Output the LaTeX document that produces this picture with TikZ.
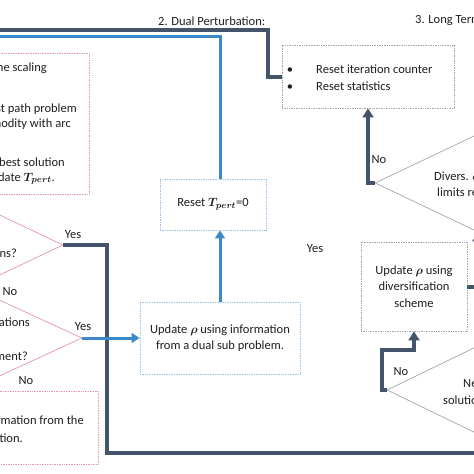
\documentclass[tikz,border=0pt]{standalone}
\usepackage{amsmath}
\usepackage{fontspec}
\setmainfont{Carlito}
\usetikzlibrary{arrows.meta,shapes.geometric}
\definecolor{navy}{HTML}{44546A}
\definecolor{lblue}{HTML}{3A87C9}
\definecolor{bluebd}{HTML}{9DC3E6}
\definecolor{pinkbd}{HTML}{E59AA3}
\definecolor{graybd}{HTML}{A6A6A6}
\definecolor{txt}{HTML}{1F1F1F}
\tikzset{
  navyln/.style={draw=navy, line width=4pt},
  blueln/.style={draw=lblue, line width=3pt},
  navyarr/.style={navyln, -{Triangle[length=9pt,width=11pt]}},
  bluearr/.style={blueln, -{Triangle[length=8pt,width=10pt]}},
  boxbase/.style={line width=0.9pt, dash pattern=on 1pt off 0.7pt, fill=white, align=center, inner sep=0pt, text=txt},
  bluebox/.style={boxbase, draw=bluebd},
  graybox/.style={boxbase, draw=graybd},
  pinkbox/.style={boxbase, draw=pinkbd},
  pinkdiam/.style={diamond, draw=pinkbd, line width=0.7pt, inner sep=0pt},
  graydiam/.style={diamond, draw=graybd, line width=0.7pt, inner sep=0pt},
  lbl/.style={text=txt, inner sep=0pt},
}
\begin{document}
\begin{tikzpicture}[x=1pt,y=-1pt, font=\fontsize{12.5}{16.5}\selectfont]
\useasboundingbox (0,0) rectangle (474,474);
\clip (0,0) rectangle (474,474);
\fill[white] (0,0) rectangle (474,474);

% headings
\node[lbl, anchor=west] (h2) at (158,21) {2. Dual Perturbation:};
\node[lbl, anchor=west] (h3) at (415,21) {3. Long Term Memory:};

% boxes
\node[pinkbox, minimum width=220, minimum height=141, anchor=north east] (pinkT) at (90,53) {};
\node[lbl, anchor=base east] (pt1) at (47,71) {the scaling};
\node[lbl, anchor=base east] (pt2) at (77,112) {shortest path problem};
\node[lbl, anchor=base east] (pt3) at (71,127) {commodity with arc};
\node[lbl, anchor=base east] (pt4) at (65,166) {the best solution};
\node[lbl, anchor=base east] (pt5) at (55,181) {update $\boldsymbol{T_{pert}}$.};

\node[pinkbox, minimum width=220, minimum height=73, anchor=north east] (pinkB) at (99,391) {};
\node[lbl, anchor=base east] (pb1) at (84,424) {information from the};
\node[lbl, anchor=base east] (pb2) at (23,442) {solution.};

\node[graybox, minimum width=172, minimum height=63] (resetIt) at (368,76.5) {};
\node[lbl, anchor=base] (b1) at (290,73) {\textbullet};
\node[lbl, anchor=base west] (r1) at (316,73) {Reset iteration counter};
\node[lbl, anchor=base] (b2) at (290,90) {\textbullet};
\node[lbl, anchor=base west] (r2) at (316,90) {Reset statistics};

\node[bluebox, minimum width=106, minimum height=51] (resetT) at (213,204.5) {Reset $\boldsymbol{T_{pert}}$=0};
\node[bluebox, minimum width=160, minimum height=72] (updInfo) at (220,338) {Update $\boldsymbol{\rho}$ using information\\from a dual sub problem.};
\node[graybox, minimum width=106, minimum height=89] (updDiv) at (414,286.5) {Update $\boldsymbol{\rho}$ using\\diversification\\scheme};

% diamonds
\node[pinkdiam, minimum width=166, minimum height=79] (d1) at (-20,245) {};
\node[lbl, anchor=base east] (d1t) at (17,257) {iterations?};
\node[pinkdiam, minimum width=204, minimum height=94] (d2) at (-20,338) {};
\node[lbl, anchor=base east] (d2a) at (30,326) {iterations};
\node[lbl, anchor=base east] (d2b) at (28,360) {improvement?};
\node[graydiam, minimum width=206, minimum height=98] (d3) at (478,183) {};
\node[lbl, anchor=base west] (d3a) at (434,180) {Divers. \& int.};
\node[lbl, anchor=base west] (d3b) at (437,196) {limits reached?};
\node[graydiam, minimum width=206, minimum height=100] (d4) at (490,390) {};
\node[lbl, anchor=base west] (d4a) at (463,387) {New best};
\node[lbl, anchor=base west] (d4b) at (443,404) {solution found?};

% helper coordinates
\coordinate (tl) at (0,30);
\coordinate (k2) at (268,30);
\coordinate (bl) at (0,36);
\coordinate (k1) at (382,350);
\coordinate (k3) at (107,453);
\coordinate (br) at (490,453);

% navy connectors
\draw[navyln] (tl) -- (k2) |- (resetIt.west);
\draw[navyarr] (d3.west) -| (resetIt.south);
\draw[navyarr] (updDiv.east) -| (d3.south);
\draw[navyarr] (d4.west) -| (k1) -| (updDiv.south);
\draw[navyln] (d1.east) -| (k3) -- (br);

% blue connectors
\draw[blueln] (updInfo.north |- resetT.north) |- (bl);
\draw[bluearr] (updInfo.north) -- (updInfo.north |- resetT.south);
\draw[bluearr] (d2.east) -- (updInfo.west);

% labels
\node[lbl] (y1) at (73,235) {Yes};
\node[lbl] (n1) at (10,292) {No};
\node[lbl] (y2) at (83,327) {Yes};
\node[lbl] (n2) at (26,381) {No};
\node[lbl] (n3) at (379,160) {No};
\node[lbl] (y3) at (315,249) {Yes};
\node[lbl] (n4) at (401,372) {No};
\end{tikzpicture}
\end{document}
